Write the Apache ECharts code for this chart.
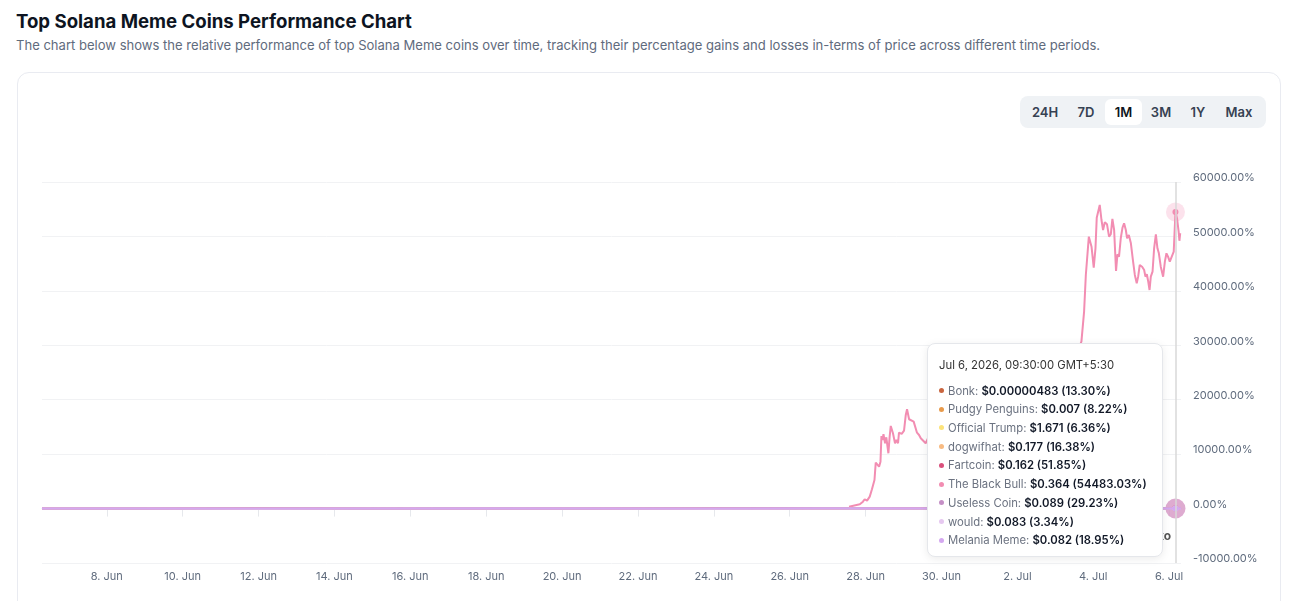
<!DOCTYPE html>
<html>
<head>
<meta charset="utf-8">
<script src="https://cdn.jsdelivr.net/npm/echarts@6/dist/echarts.min.js"></script>
<style>
  html, body { margin: 0; padding: 0; background: #fff; width: 1289px; height: 601px; overflow: hidden; font-family: Inter, "Noto Sans", sans-serif; }
  h1 { position: absolute; left: 16px; top: 10px; margin: 0; font-size: 18.6px; line-height: 22px; font-weight: 700; color: #0d1421; }
  p.sub { position: absolute; left: 16px; top: 37px; margin: 0; font-size: 13.06px; line-height: 16px; color: #5f6b7d; }
  .card { position: absolute; left: 17px; top: 72px; width: 1264px; height: 560px; border: 1px solid #e9ebf1; border-radius: 12px; box-sizing: border-box; }
  #chart { position: absolute; left: 0; top: 0; width: 1289px; height: 601px; z-index: 1; }
  .btns { position: absolute; left: 1020px; top: 96px; width: 246px; height: 32px; background: #eff2f5; border-radius: 8px; z-index: 2; }
  .btns span { position: absolute; top: 3px; height: 26px; line-height: 26px; width: 36px; text-align: center; font-size: 13px; font-weight: 600; color: #364152; }
  .btns span.on { background: #fff; border-radius: 6px; color: #0d1421; width: 37px; }
</style>
</head>
<body>
<h1>Top Solana Meme Coins Performance Chart</h1>
<p class="sub">The chart below shows the relative performance of top Solana Meme coins over time, tracking their percentage gains and losses in-terms of price across different time periods.</p>
<div class="card"></div>
<div class="btns">
  <span style="left:7px">24H</span><span style="left:48px">7D</span><span class="on" style="left:85px">1M</span><span style="left:123px">3M</span><span style="left:160px">1Y</span><span style="left:201px">Max</span>
</div>
<div id="chart"></div>
<script>
// ---------- DATA ----------
const coinNames = ['Bonk', 'Pudgy Penguins', 'Official Trump', 'dogwifhat', 'Fartcoin', 'The Black Bull', 'Useless Coin', 'would', 'Melania Meme'];
const coinColors = ['#c9653f', '#e89a4b', '#fce37a', '#f8bb82', '#d9507c', '#f28db2', '#c58fc6', '#e6c8f0', '#d4a8f0'];
const tooltipPrices = ['$0.00000483', '$0.007', '$1.671', '$0.177', '$0.162', '$0.364', '$0.089', '$0.083', '$0.082'];

const sparseTimes = ['06-06 07:00', '06-09 00:00', '06-12 00:00', '06-15 00:00', '06-18 00:00', '06-21 00:00', '06-24 00:00', '06-27 00:00', '06-30 00:00', '07-03 00:00', '07-06 04:00', '07-06 07:30'];
const bonkValues     = [0, -4.8, 2.6, 7.9, 1.5, -6.2, -2.1, 4.4, 9.7, 16.2, 13.30, 12.9];
const pudgyValues    = [0, 3.1, -2.4, -8.6, -12.3, -5.7, 1.9, 6.5, 4.2, 10.8, 8.22, 7.6];
const trumpValues    = [0, -2.2, -4.9, -3.1, -7.8, -10.4, -6.6, -1.3, 2.8, 7.4, 6.36, 5.9];
const wifValues      = [0, -6.1, 1.8, 9.3, 4.7, -3.9, 2.2, 8.8, 12.1, 19.5, 16.38, 15.7];
const fartcoinValues = [0, 8.4, 15.7, 22.9, 18.3, 26.5, 31.2, 38.6, 44.1, 57.3, 51.85, 50.4];
const uselessValues  = [0, 12.5, 35.8, 21.4, 48.2, 30.7, 22.1, 40.6, 35.2, 33.9, 29.23, 28.1];
const wouldValues    = [0, -9.5, -14.2, -6.8, 4.1, -3.3, -11.6, -7.2, 2.5, 5.9, 3.34, 2.8];
const melaniaValues  = [0, 4.2, -3.6, 9.8, 14.5, 6.1, 11.7, 21.3, 15.9, 22.4, 18.95, 17.6];

const bullTimes = [
 '06-27 13:30','06-27 14:36','06-27 20:18','06-27 22:18','06-27 23:24','06-28 00:54','06-28 02:36','06-28 04:00','06-28 04:42','06-28 05:36',
 '06-28 06:24','06-28 07:30','06-28 08:30','06-28 09:24','06-28 10:00','06-28 10:36','06-28 11:18','06-28 12:18','06-28 13:06','06-28 14:24',
 '06-28 15:12','06-28 15:54','06-28 16:42','06-28 17:18','06-28 18:36','06-28 19:30','06-28 20:30','06-28 21:06','06-28 22:48','06-29 00:18',
 '06-29 01:24','06-29 02:12','06-29 03:30','06-29 06:24','06-29 07:30','06-29 08:30','06-29 09:48','06-29 10:54','06-29 11:54',
 '06-29 14:00','06-29 18:00','06-29 22:00','06-30 03:00','06-30 08:00','06-30 13:00','06-30 18:00','07-01 00:00','07-01 06:00','07-01 12:00',
 '07-01 18:00','07-02 00:00','07-02 06:00','07-02 12:00','07-02 18:00','07-03 00:00','07-03 06:00','07-03 12:00',
 '07-03 16:30','07-03 18:12','07-03 19:18','07-03 20:18','07-03 21:12','07-03 22:54','07-04 00:18','07-04 01:24','07-04 02:12','07-04 03:00',
 '07-04 04:06','07-04 05:12','07-04 06:12','07-04 07:18','07-04 08:42','07-04 10:00','07-04 11:06','07-04 12:06','07-04 13:12','07-04 14:24',
 '07-04 15:18','07-04 16:18','07-04 17:24','07-04 18:30','07-04 19:30','07-04 20:36','07-04 21:24','07-04 22:30','07-04 23:48','07-05 01:12',
 '07-05 02:18','07-05 03:30','07-05 04:24','07-05 05:24','07-05 06:54','07-05 08:12','07-05 09:00','07-05 09:54','07-05 10:42','07-05 11:36',
 '07-05 12:24','07-05 13:30','07-05 14:30','07-05 15:36','07-05 16:36','07-05 17:30','07-05 18:42','07-05 20:12','07-05 21:18','07-05 22:18',
 '07-05 23:18','07-06 00:24','07-06 01:30','07-06 02:54','07-06 04:00','07-06 05:00','07-06 06:00','07-06 06:30','07-06 07:00'
];
const bullValues = [
 350,530,790,1270,1710,1450,2190,3550,3290,5250,
 8430,8750,7700,8620,13340,12600,13650,12000,13100,10160,
 13210,15180,15360,13830,12000,12600,12000,13940,13710,14310,
 17200,18240,16410,15970,15970,13940,13520,12920,12730,
 12000,14500,13000,16000,18500,17000,21000,24000,22000,25500,
 23000,26000,24500,27000,25000,26500,24000,27500,
 30660,36170,42920,43050,49950,48120,44260,47820,53440,53330,
 55780,53020,51180,52600,52230,49950,50400,53210,51180,43650,
 46720,46280,49660,51610,52420,51180,49660,50270,48740,45360,
 42920,41390,42610,44750,44440,43840,42610,43050,41820,40160,
 42610,43520,47820,50400,47820,46900,44440,42610,45360,46900,
 46280,45360,45490,47200,54483.03,53300,50900,49200,50600
];

const xTickDates = ['06-08','06-10','06-12','06-14','06-16','06-18','06-20','06-22','06-24','06-26','06-28','06-30','07-02','07-04','07-06'];
const axisStart = '06-06 07:00';
const axisEnd = '07-06 07:30';
const hoverTime = '07-06 04:00';
const yMin = -10000, yMax = 60000, yStep = 10000;

// ---------- HELPERS ----------
function ts(s) {
  const parts = s.split(' ');
  return Date.parse('2026-' + parts[0] + 'T' + (parts[1] || '00:00') + ':00Z');
}
const MONTHS = ['Jan','Feb','Mar','Apr','May','Jun','Jul','Aug','Sep','Oct','Nov','Dec'];
function pairs(times, vals) { return times.map((t, i) => [ts(t), vals[i]]); }

const sparseSeriesValues = [bonkValues, pudgyValues, trumpValues, wifValues, fartcoinValues, null, uselessValues, wouldValues, melaniaValues];

const series = coinNames.map((name, i) => {
  const data = i === 5 ? pairs(bullTimes, bullValues) : pairs(sparseTimes, sparseSeriesValues[i]);
  return {
    name: name,
    type: 'line',
    data: data,
    showSymbol: false,
    symbol: 'circle',
    symbolSize: 5,
    lineStyle: { width: 2, color: coinColors[i] },
    itemStyle: { color: coinColors[i] },
    emphasis: { disabled: true },
    animation: false,
    z: 2 + i
  };
});

const bullHoverIdx = bullTimes.indexOf(hoverTime);
series[5].markPoint = {
  silent: true, animation: false,
  label: { show: false },
  data: [
    { coord: [ts(hoverTime), bullValues[bullHoverIdx]], symbol: 'circle', symbolSize: 19, itemStyle: { color: 'rgba(242,141,178,0.25)' } },
    { coord: [ts(hoverTime), bullValues[bullHoverIdx]], symbol: 'circle', symbolSize: 5, itemStyle: { color: coinColors[5] } }
  ]
};
const melIdx = sparseTimes.indexOf(hoverTime);
series[8].markPoint = {
  silent: true, animation: false,
  label: { show: false },
  data: [
    { coord: [ts(hoverTime), melaniaValues[melIdx]], symbol: 'circle', symbolSize: 20, itemStyle: { color: 'rgba(214,150,196,0.8)' } },
    { coord: [ts(hoverTime), melaniaValues[melIdx]], symbol: 'circle', symbolSize: 6, itemStyle: { color: '#c9a4f0' } }
  ]
};

const tickValues = xTickDates.map(d => ts(d));

const chart = echarts.init(document.getElementById('chart'), null, { renderer: 'canvas' });
chart.setOption({
  animation: false,
  backgroundColor: 'transparent',
  textStyle: { fontFamily: 'Inter, "Noto Sans", sans-serif' },
  grid: { left: 42, right: 108, top: 182, bottom: 38, containLabel: false },
  xAxis: {
    type: 'value',
    min: ts(axisStart),
    max: ts(axisEnd),
    axisLine: { show: true, lineStyle: { color: '#eceef2', width: 1 } },
    axisTick: { show: true, length: 8, lineStyle: { color: '#e6e8ec' }, customValues: tickValues },
    splitLine: { show: false },
    axisLabel: {
      customValues: tickValues,
      showMinLabel: true, showMaxLabel: true,
      color: '#5f6b7d', fontSize: 11, margin: 8,
      formatter: function (v) { const d = new Date(v); return d.getUTCDate() + '. ' + MONTHS[d.getUTCMonth()]; }
    }
  },
  yAxis: {
    type: 'value',
    position: 'right',
    min: yMin, max: yMax, interval: yStep,
    axisLine: { show: false },
    axisTick: { show: false },
    splitLine: { lineStyle: { color: '#f1f2f4', width: 1 } },
    axisLabel: {
      color: '#5f6b7d', fontSize: 11, margin: 12, verticalAlign: 'bottom', lineHeight: 8,
      formatter: function (v) { return v.toFixed(2) + '%'; }
    }
  },
  graphic: [{
    type: 'text', right: 1289 - 1171, top: 530, z: 0,
    style: { text: 'CoinGecko', fill: '#555', font: 'bold 12px Inter, sans-serif' }
  }],
  tooltip: {
    trigger: 'axis',
    triggerOn: 'none',
    alwaysShowContent: true,
    transitionDuration: 0,
    backgroundColor: '#fff',
    borderColor: '#e5e7eb',
    borderWidth: 1,
    padding: [13, 10, 8, 11],
    extraCssText: 'width:236px;height:214px;box-sizing:border-box;border-radius:8px;box-shadow:0 2px 8px rgba(0,0,0,0.08);',
    position: function () { return [927, 343]; },
    axisPointer: { type: 'line', lineStyle: { color: '#d9d9d9', width: 1.5, type: 'solid' }, label: { show: false }, animation: false },
    formatter: function (params) {
      const t = new Date(params[0].value[0] + 5.5 * 3600000);
      const pad = n => String(n).padStart(2, '0');
      const head = MONTHS[t.getUTCMonth()] + ' ' + t.getUTCDate() + ', ' + t.getUTCFullYear() + ', ' +
        pad(t.getUTCHours()) + ':' + pad(t.getUTCMinutes()) + ':' + pad(t.getUTCSeconds()) + ' GMT+5:30';
      let html = '<div style="font-size:11.3px;line-height:16px;color:#333;margin-bottom:8.6px;font-family:Inter,sans-serif;">' + head + '</div>';
      params.forEach(p => {
        const i = p.seriesIndex;
        html += '<div style="font-size:11.3px;line-height:18.7px;white-space:nowrap;font-family:Inter,sans-serif;">' +
          '<span style="display:inline-block;width:5px;height:5px;border-radius:50%;background:' + coinColors[i] + ';margin-right:4px;vertical-align:middle;position:relative;top:-1px;"></span>' +
          '<span style="color:#6b7280;">' + p.seriesName + ': </span>' +
          '<span style="color:#111827;font-weight:600;">' + tooltipPrices[i] + ' (' + p.value[1].toFixed(2) + '%)</span></div>';
      });
      return html;
    }
  },
  series: series
});

chart.dispatchAction({ type: 'showTip', seriesIndex: 5, dataIndex: bullHoverIdx });
</script>
</body>
</html>
